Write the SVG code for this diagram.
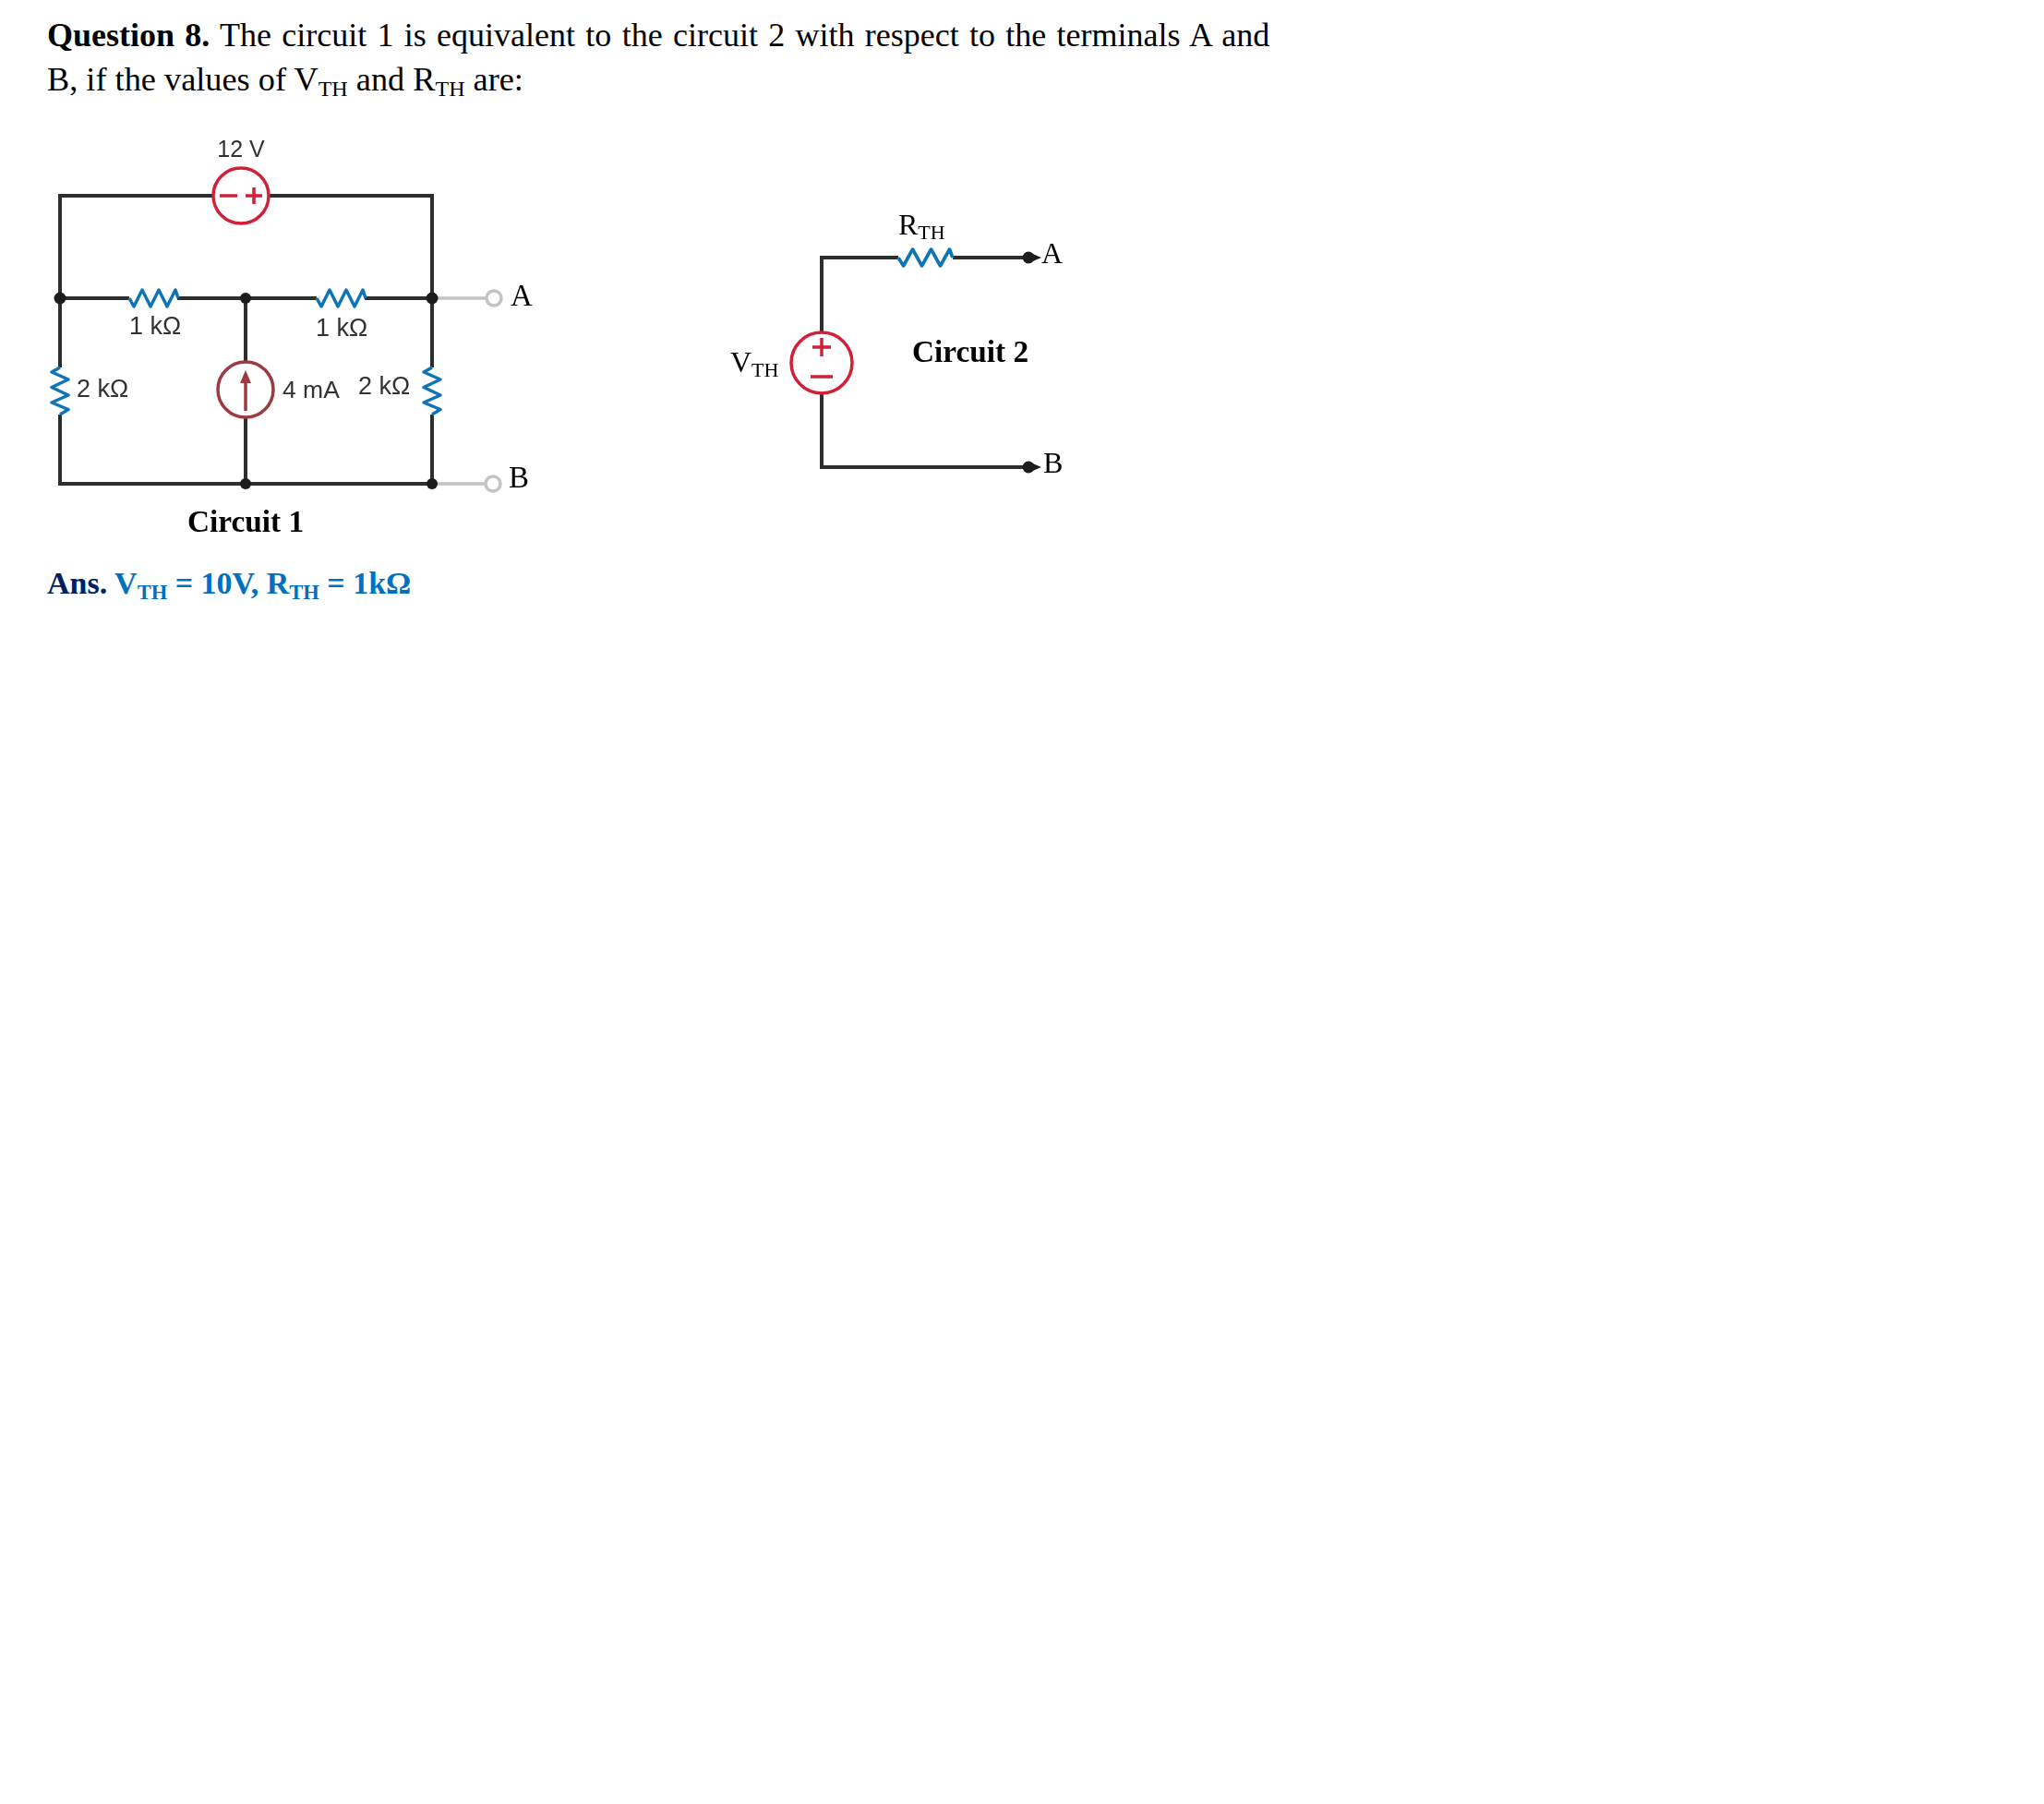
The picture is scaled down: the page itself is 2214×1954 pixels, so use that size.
<svg xmlns="http://www.w3.org/2000/svg" width="2214" height="1954" viewBox="0 0 2214 1954">
<style>
.t{font-family:"Liberation Serif","Times New Roman",serif;fill:#000}
.b{font-weight:bold}
.h{font-family:"Liberation Sans",Arial,sans-serif;font-size:27px;fill:#333}
.w{fill:none;stroke:#2e2e2e;stroke-width:4}
.g{fill:none;stroke:#c4c4c4;stroke-width:3.5}
.r{fill:none;stroke:#0f75b5;stroke-width:3.500;stroke-linejoin:round}
.v{fill:none;stroke:#cf2038;stroke-width:3.5}
.c{fill:none;stroke:#9c3a40;stroke-width:3.5}
.d{fill:#1f1c1d}
.n{fill:#002060}
.a{fill:#0070c0}
</style>
<defs>
<filter id="soft" x="-5%" y="-5%" width="110%" height="110%"><feGaussianBlur stdDeviation="0.7"/></filter>
<path id="rh" d="M0 0 L5 9 L14 -9 L23 9 L32 -9 L41 9 L50 -9 L53 0" class="r"/>
<path id="rv" d="M0 0 L-9 5 L9 13 L-9 21.500 L9 30 L-9 38 L9 45.500 L0 51" class="r"/>
</defs>

<g id="question">
<text class="t" x="51" y="50" font-size="36" word-spacing="2.300"><tspan class="b">Question 8.</tspan> The circuit 1 is equivalent to the circuit 2 with respect to the terminals A and</text>
<text class="t" x="51" y="98" font-size="36.300">B, if the values of V<tspan font-size="24" dy="6">TH</tspan><tspan dy="-6"> and R</tspan><tspan font-size="24" dy="6">TH</tspan><tspan dy="-6"> are:</tspan></text>
</g>

<g id="connectors" filter="url(#soft)">
<path class="w" d="M231 212H65V398M65 449V524H468M291 212H468V398M468 449V524M65 323H140M192 323H343M395 323H468M266 323V392M266 452V524"/>
<path class="g" d="M468 323H527M468 524H526"/>
<path class="w" d="M973 279H890V360M890 426V506H1114M1032 279H1114"/>
</g>

<g id="circuit1" filter="url(#soft)">
<g id="source-12v"><circle class="v" cx="261" cy="212" r="30"/><path class="v" d="M238 212H257M266 212H284M275 203V221" stroke-width="3"/></g>
<g id="source-4ma"><circle class="c" cx="266" cy="422" r="30"/><path class="c" d="M266 445V412" stroke-width="2.500"/><path d="M266 401L272 415H260Z" fill="#9c3a40"/></g>
<use id="r1" href="#rh" x="140" y="323"/>
<use id="r2" href="#rh" x="343" y="323"/>
<use id="r3" href="#rv" x="65" y="398"/>
<use id="r4" href="#rv" x="468" y="398"/>
<g id="junctions">
<circle class="d" cx="65" cy="323" r="6.500"/>
<circle class="d" cx="266" cy="323" r="6"/>
<circle class="d" cx="468" cy="323" r="6.500"/>
<circle class="d" cx="266" cy="524" r="6"/>
<circle class="d" cx="468" cy="524" r="6"/>
</g>
<g id="terminal-a"><circle class="g" cx="535" cy="323" r="8" fill="#fff"/></g>
<g id="terminal-b"><circle class="g" cx="534" cy="524" r="8" fill="#fff"/></g>
<text class="h" x="261" y="170" text-anchor="middle" style="font-size:25px">12 V</text>
<text class="h" x="140" y="362">1 kΩ</text>
<text class="h" x="342" y="364">1 kΩ</text>
<text class="h" x="83" y="430">2 kΩ</text>
<text class="h" x="306" y="431" style="font-size:26.500px">4 mA</text>
<text class="h" x="388" y="427">2 kΩ</text>
</g>
<g id="circuit1-labels">
<text class="t" x="553" y="331" font-size="33">A</text>
<text class="t" x="551" y="528" font-size="33">B</text>
<text class="t b" x="203" y="576" font-size="33.300">Circuit 1</text>
</g>

<g id="circuit2" filter="url(#soft)">
<g id="source-vth"><circle class="v" cx="890" cy="393" r="33"/><path class="v" d="M890 366V386M880 376H900" stroke-width="2.500"/><path class="v" d="M878 408H902" stroke-width="4"/></g>
<use id="rth" href="#rh" x="0" y="0" transform="translate(973 279) scale(1.11 1)"/>
<g id="node-a"><circle class="d" cx="1114" cy="279" r="6.500"/><path class="d" d="M1114 273L1128 279L1114 285Z"/></g>
<g id="node-b"><circle class="d" cx="1114" cy="506" r="6.500"/><path class="d" d="M1114 500L1128 506L1114 512Z"/></g>
<text class="t" x="973" y="254" font-size="32" fill="#222">R<tspan font-size="22" dy="5">TH</tspan></text>
<text class="t" x="791" y="403" font-size="32" fill="#222">V<tspan font-size="22" dy="5">TH</tspan></text>
<text class="t" x="1128" y="285" font-size="32" fill="#222">A</text>
<text class="t" x="1130" y="512" font-size="32" fill="#222">B</text>
<text class="t b" x="988" y="392" font-size="33.300">Circuit 2</text>
</g>

<g id="answer">
<text class="t b" x="51" y="643" font-size="34"><tspan class="n">Ans. </tspan><tspan class="a">V</tspan><tspan class="a" font-size="22.500" dy="6">TH</tspan><tspan class="a" dy="-6"> = 10V, R</tspan><tspan class="a" font-size="22.500" dy="6">TH</tspan><tspan class="a" dy="-6"> = 1kΩ</tspan></text>
</g>
</svg>
